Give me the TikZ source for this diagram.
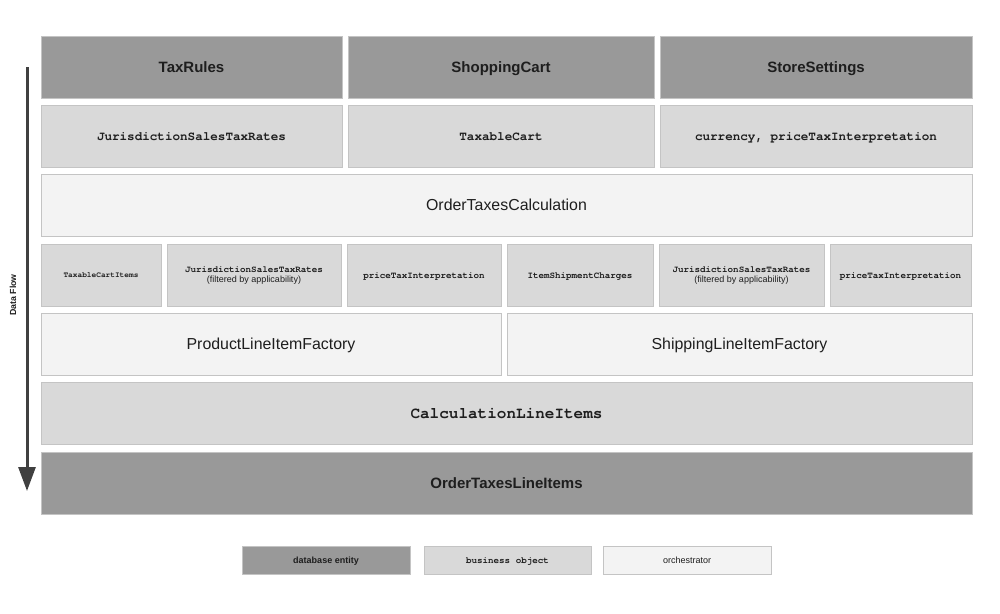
\documentclass[tikz,border=0pt]{standalone}
\usepackage{fontspec}
\setmainfont{Liberation Sans}
\setmonofont{TeX Gyre Cursor}
\usetikzlibrary{arrows.meta}
\definecolor{dbfill}{HTML}{999999}
\definecolor{bofill}{HTML}{D9D9D9}
\definecolor{orfill}{HTML}{F3F3F3}
\definecolor{edge}{HTML}{C4C4C4}
\definecolor{ink}{HTML}{1E1E1E}
% small sans-serif qualifier under a monospaced name
\newcommand{\qualnote}[1]{{\fontsize{9}{11}\selectfont\rmfamily\mdseries #1}}
\begin{document}
\begin{tikzpicture}[x=1pt,y=-1pt,
  cellbase/.style={draw=edge, line width=0.9pt, inner sep=0pt, outer sep=0pt,
    text=ink, align=center, minimum height=62pt},
  cell/.style={cellbase, text depth=0pt},
  dbent/.style={cell, fill=dbfill, text height=10.2pt, font=\fontsize{15}{17}\selectfont\bfseries},
  bobj/.style={cell, fill=bofill, text height=8.6pt, font=\fontsize{12.6}{15}\selectfont\ttfamily\bfseries},
  bobjsm/.style={cell, fill=bofill, text height=6.2pt, font=\fontsize{9.2}{11}\selectfont\ttfamily\bfseries},
  bobjtwo/.style={cellbase, fill=bofill, font=\fontsize{9.2}{11}\selectfont\ttfamily\bfseries},
  orch/.style={cell, fill=orfill, text height=10.6pt, font=\fontsize{15.9}{18}\selectfont},
  legend/.style={cell, minimum height=28pt, minimum width=168pt, text height=6pt},
  flow/.style={line width=3pt, draw=ink!85, -{Triangle[length=24pt,width=17pt]}}
]
\path[use as bounding box] (0,0) rectangle (1000,613);

% sources
\node[dbent, minimum width=301pt] (taxrules) at (191.5,67) {TaxRules};
\node[dbent, minimum width=306pt] (cart) at (501,67) {ShoppingCart};
\node[dbent, minimum width=312pt] (store) at (816,67) {StoreSettings};

% business objects read from the sources
\node[bobj, minimum width=301pt] (jstr) at (191.5,136) {JurisdictionSalesTaxRates};
\node[bobj, minimum width=306pt] (tcart) at (501,136) {TaxableCart};
\node[bobj, minimum width=312pt] (cur) at (816,136) {currency, priceTaxInterpretation};

% top-level orchestrator
\node[orch, minimum width=931pt] (otc) at (506.5,205) {OrderTaxesCalculation};

% inputs handed to the factories
\node[bobjsm, minimum width=120pt, text height=5.6pt, font=\fontsize{7.8}{10}\selectfont\ttfamily\bfseries] (items) at (101,275) {TaxableCartItems};
\node[bobjtwo, minimum width=174pt] (jstrA) at (254,275.5) {JurisdictionSalesTaxRates\\[-0.5pt]\qualnote{(filtered by applicability)}};
\node[bobjsm, minimum width=154pt] (ptiA) at (424,275) {priceTaxInterpretation};
\node[bobjsm, minimum width=146pt] (ship) at (580,275) {ItemShipmentCharges};
\node[bobjtwo, minimum width=165pt] (jstrB) at (741.5,275.5) {JurisdictionSalesTaxRates\\[-0.5pt]\qualnote{(filtered by applicability)}};
\node[bobjsm, minimum width=141pt] (ptiB) at (900.5,275) {priceTaxInterpretation};

% factories
\node[orch, minimum width=460pt] (plif) at (271,344) {ProductLineItemFactory};
\node[orch, minimum width=465pt] (slif) at (739.5,344) {ShippingLineItemFactory};

% results
\node[bobj, minimum width=931pt, text height=10.4pt, font=\fontsize{16}{19}\selectfont\ttfamily\bfseries] (cli) at (506.5,413) {CalculationLineItems};
\node[dbent, minimum width=931pt] (otli) at (506.5,483) {OrderTaxesLineItems};

% data flow arrow
\coordinate (flowtop) at (27,67);
\coordinate (flowend) at (27,491);
\draw[flow] (flowtop) -- (flowend);
\node[rotate=90, text=ink, font=\fontsize{8.8}{10}\selectfont\bfseries] (flowlabel) at (13,295) {Data Flow};

% legend
\node[legend, fill=dbfill, font=\fontsize{9}{11}\selectfont\bfseries] (lgdb) at (326,560) {database entity};
\node[legend, fill=bofill, minimum width=167pt, text height=6.2pt, font=\fontsize{9.2}{11}\selectfont\ttfamily\bfseries] (lgbo) at (507.5,560) {business object};
\node[legend, fill=orfill, font=\fontsize{9}{11}\selectfont] (lgor) at (687,560) {orchestrator};
\end{tikzpicture}
\end{document}
